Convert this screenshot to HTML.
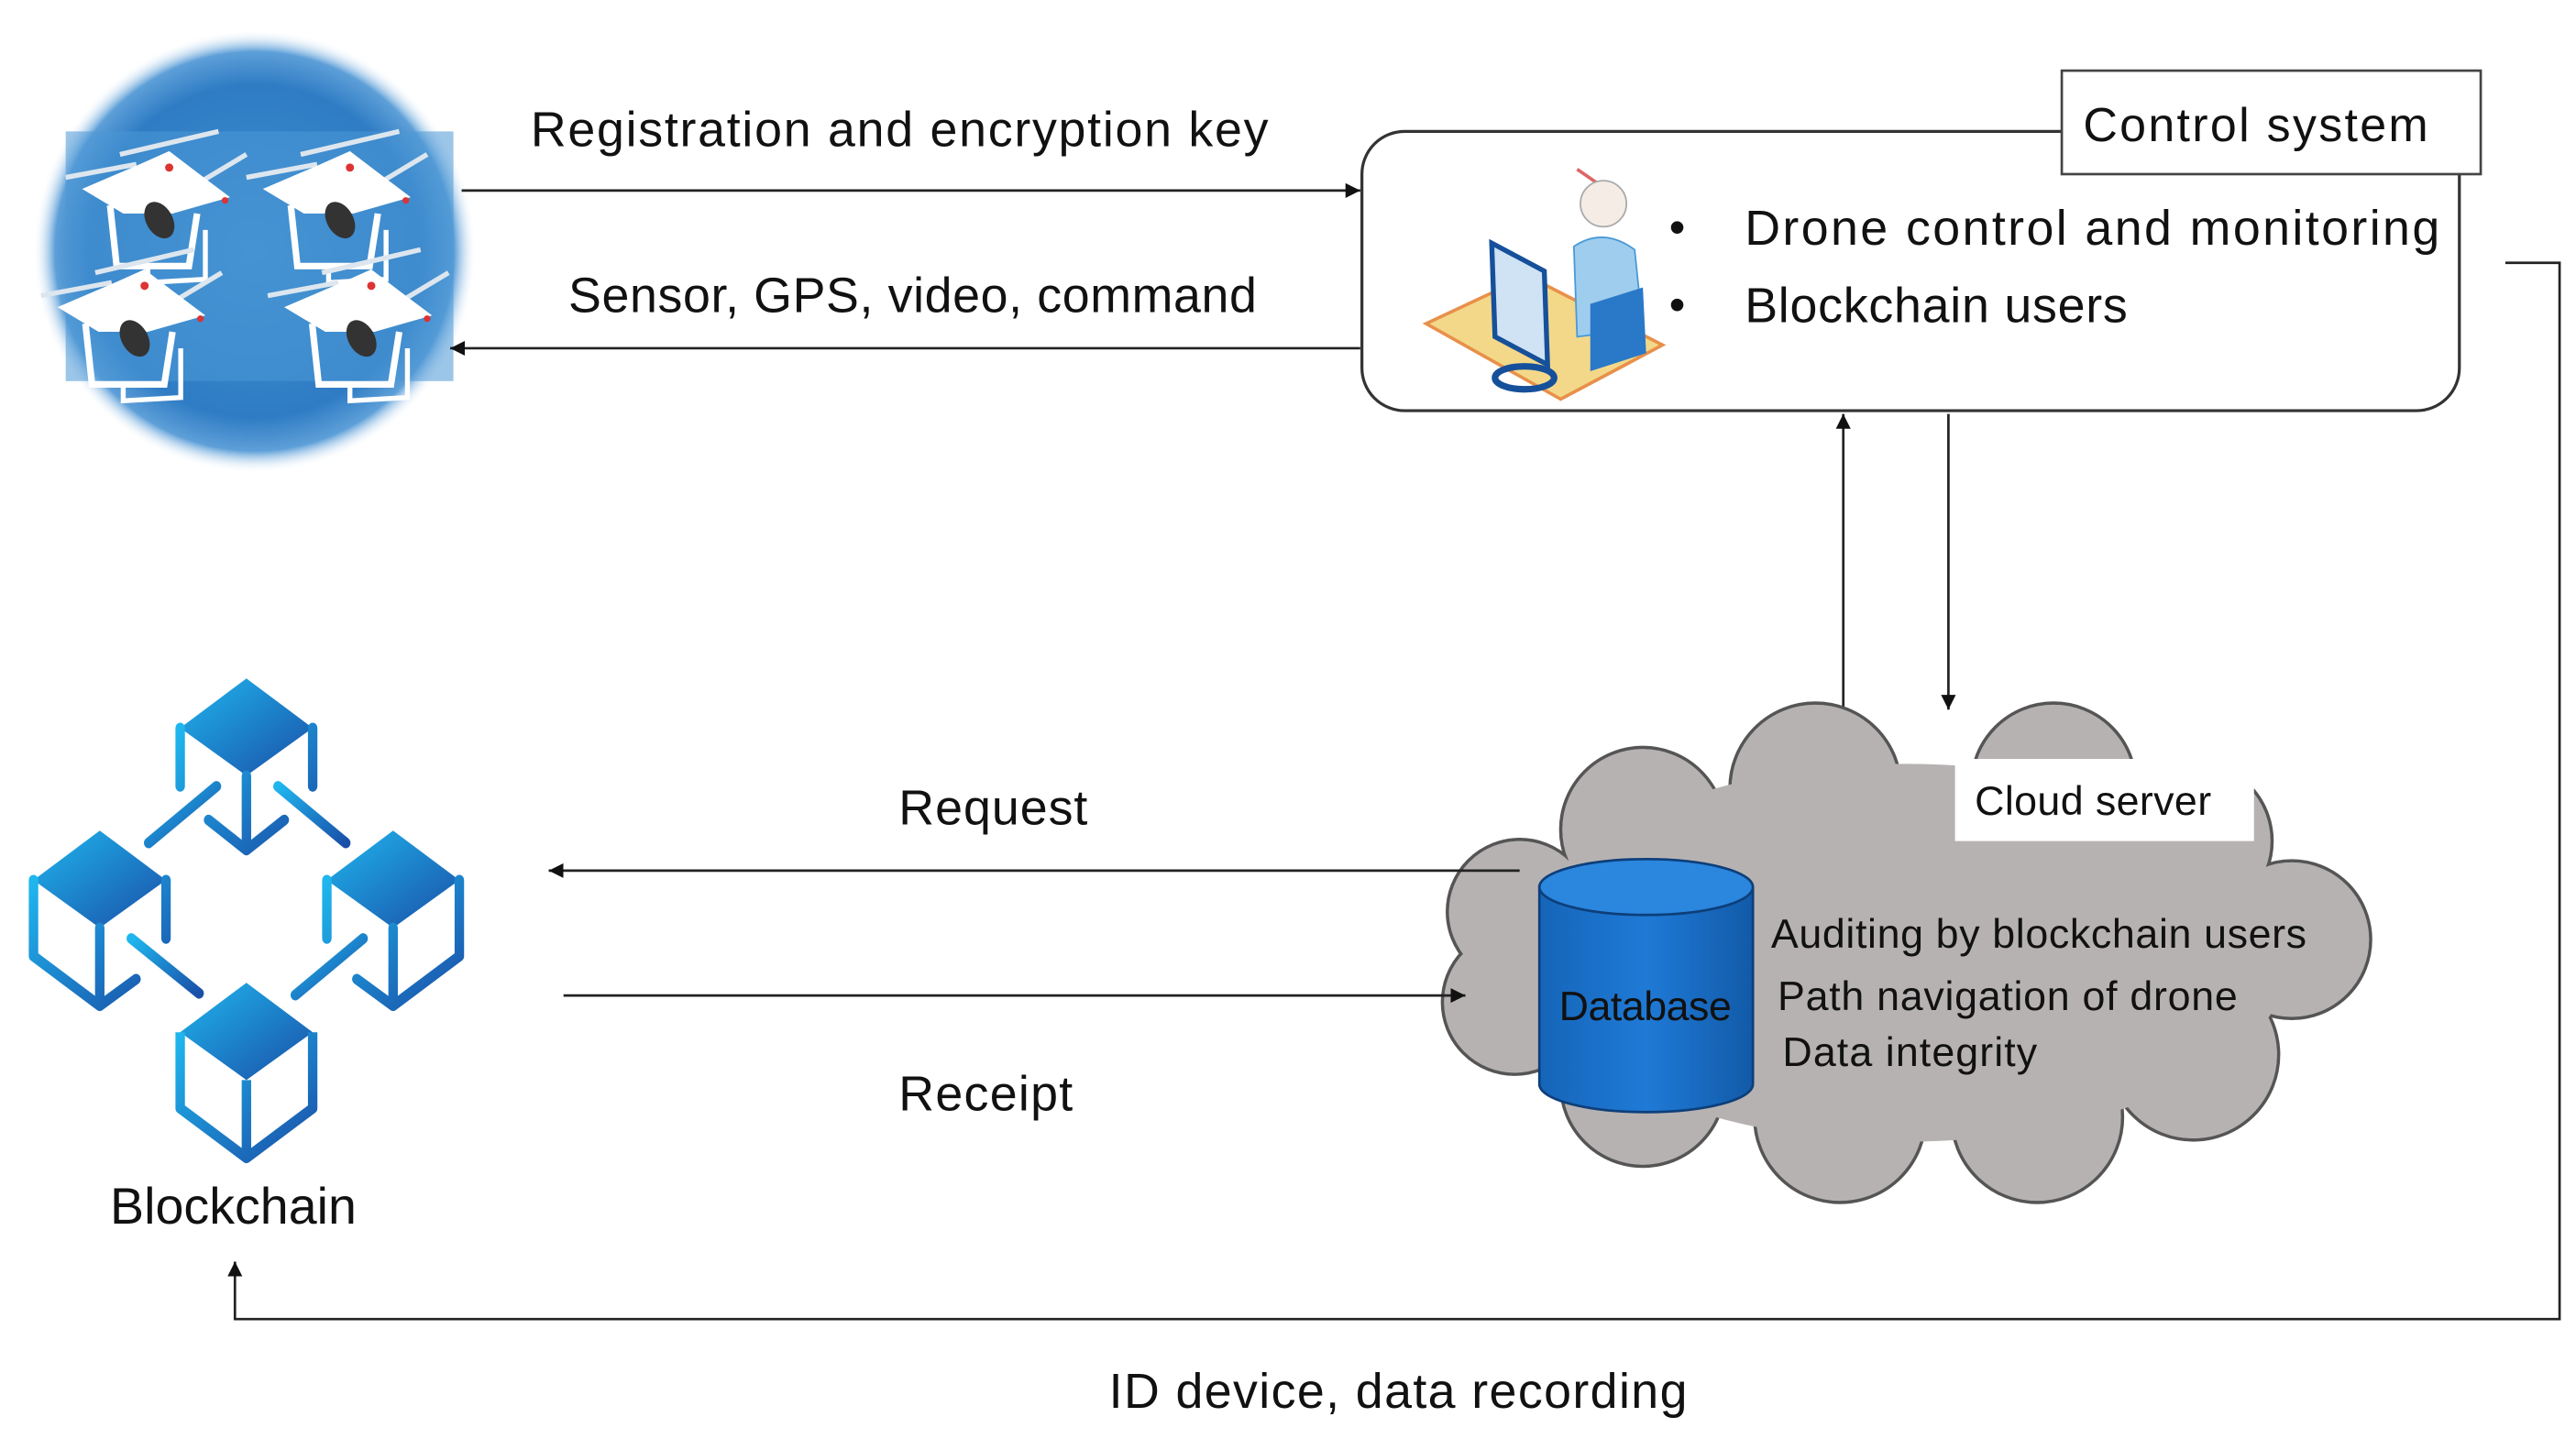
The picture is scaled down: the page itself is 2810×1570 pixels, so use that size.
<!DOCTYPE html>
<html><head><meta charset="utf-8"><style>html,body{margin:0;padding:0;background:#fff}svg{display:block}</style></head>
<body>
<svg width="2810" height="1570" viewBox="0 0 1568 876" preserveAspectRatio="none" xmlns="http://www.w3.org/2000/svg" font-family="Liberation Sans, sans-serif">
<defs>
<marker id="ah" viewBox="0 0 10 10" refX="10" refY="5" markerWidth="9" markerHeight="9" markerUnits="userSpaceOnUse" orient="auto"><path d="M0,0 L10,5 L0,10 z" fill="#111"/></marker>
<radialGradient id="dg" cx="50%" cy="50%" r="50%"><stop offset="0" stop-color="#3f8fd0"/><stop offset="0.75" stop-color="#2f7cc4"/><stop offset="0.9" stop-color="#5d9fd8"/><stop offset="1" stop-color="#fff" stop-opacity="0"/></radialGradient>
<linearGradient id="cg" x1="0" y1="0" x2="1" y2="1"><stop offset="0" stop-color="#1fb6ee"/><stop offset="1" stop-color="#1a4fa8"/></linearGradient>
<linearGradient id="db" x1="0" y1="0" x2="1" y2="0"><stop offset="0" stop-color="#1565b8"/><stop offset="0.5" stop-color="#1f7ad6"/><stop offset="1" stop-color="#125aa8"/></linearGradient>
<g id="drone">
<line x1="-55" y1="-12" x2="-12" y2="-20" stroke="#dde6ee" stroke-width="3"/>
<line x1="-22" y1="-26" x2="38" y2="-40" stroke="#dde6ee" stroke-width="3"/>
<line x1="25" y1="-8" x2="55" y2="-26" stroke="#dde6ee" stroke-width="3"/>
<path d="M-45,-5 L-10,-20 L8,-28 L25,-15 L45,0 L10,10 L-20,10 Z" fill="#fff"/>
<path d="M-28,5 L-24,42 L20,42 L25,10" fill="none" stroke="#fff" stroke-width="4"/>
<path d="M-5,42 L-5,52 L30,50 L30,20" fill="none" stroke="#fff" stroke-width="3"/>
<ellipse cx="2" cy="14" rx="8" ry="12" fill="#333" transform="rotate(-30 2 14)"/>
<circle cx="8" cy="-18" r="2.5" fill="#d33"/>
<circle cx="42" cy="2" r="2" fill="#d33"/>
</g>
<g id="cube">
<path d="M0,0 L42,28 L0,55 L-42,28 Z" fill="url(#cg)"/>
<path d="M-42,28 L-42,71 L0,99 L42,71 L42,28 M0,55 L0,99" fill="none" stroke="url(#cg)" stroke-width="6" stroke-linejoin="round"/>
</g>
</defs>

<!-- drones circle -->
<circle cx="155" cy="153" r="135" fill="url(#dg)"/>
<rect x="40" y="80" width="236" height="152" fill="#4a98d6" opacity="0.55"/>
<use href="#drone" x="95" y="120"/>
<use href="#drone" x="205" y="120"/>
<use href="#drone" x="80" y="192"/>
<use href="#drone" x="218" y="192"/>

<!-- top arrows -->
<line x1="281" y1="116" x2="828" y2="116" stroke="#222" stroke-width="1.5" marker-end="url(#ah)"/>
<text x="323" y="89" font-size="30" textLength="449" fill="#111">Registration and encryption key</text>
<line x1="828" y1="212" x2="274" y2="212" stroke="#222" stroke-width="1.5" marker-end="url(#ah)"/>
<text x="346" y="190" font-size="30" textLength="419" fill="#111">Sensor, GPS, video, command</text>

<!-- control box -->
<rect x="829" y="80" width="668" height="170" rx="26" fill="#fff" stroke="#333" stroke-width="1.8"/>
<rect x="1255" y="43" width="255" height="63" fill="#fff" stroke="#444" stroke-width="1.5"/>
<text x="1268" y="86" font-size="29" textLength="210" fill="#111">Control system</text>
<text x="1016" y="148" font-size="28" fill="#111">•</text>
<text x="1016" y="195" font-size="28" fill="#111">•</text>
<text x="1062" y="149" font-size="30" textLength="423" fill="#111">Drone control and monitoring</text>
<text x="1062" y="196" font-size="30" textLength="233" fill="#111">Blockchain users</text>
<!-- person icon -->
<g>
<path d="M868,197 L930,168 L1012,210 L950,243 Z" fill="#f3d88a" stroke="#e8904a" stroke-width="2"/>
<line x1="960" y1="103" x2="973" y2="112" stroke="#d66" stroke-width="2"/>
<circle cx="976" cy="124" r="14" fill="#f5ece6" stroke="#aaa"/>
<path d="M958,150 Q976,138 995,152 L1000,200 L960,205 Z" fill="#9fcdee" stroke="#4a9ad6"/>
<path d="M968,185 L1000,175 L1002,215 L968,226 Z" fill="#2a78c8"/>
<path d="M908,148 L940,165 L942,222 L910,205 Z" fill="#cfe3f5" stroke="#16509a" stroke-width="3"/>
<ellipse cx="928" cy="230" rx="18" ry="7" fill="none" stroke="#16509a" stroke-width="4"/>
</g>

<!-- right loop connector -->
<polyline points="1525,160 1558,160 1558,803 143,803 143,768" fill="none" stroke="#222" stroke-width="1.5" marker-end="url(#ah)"/>
<text x="675" y="857" font-size="30" textLength="352" fill="#111">ID device, data recording</text>

<!-- vertical arrows -->
<line x1="1122" y1="432" x2="1122" y2="252" stroke="#222" stroke-width="1.5" marker-end="url(#ah)"/>
<line x1="1186" y1="252" x2="1186" y2="432" stroke="#222" stroke-width="1.5" marker-end="url(#ah)"/>

<!-- cloud -->
<g fill="#b7b2b2" stroke="#555" stroke-width="2">
<circle cx="1000" cy="505" r="50"/><circle cx="1105" cy="480" r="52"/><circle cx="1250" cy="478" r="50"/><circle cx="1335" cy="512" r="48"/><circle cx="1395" cy="572" r="48"/><circle cx="1335" cy="642" r="52"/><circle cx="1240" cy="680" r="52"/><circle cx="1120" cy="680" r="52"/><circle cx="1000" cy="660" r="50"/><circle cx="922" cy="610" r="44"/><circle cx="925" cy="555" r="44"/>
</g>
<g fill="#b7b2b2">
<circle cx="1000" cy="505" r="49"/><circle cx="1105" cy="480" r="51"/><circle cx="1250" cy="478" r="49"/><circle cx="1335" cy="512" r="47"/><circle cx="1395" cy="572" r="47"/><circle cx="1335" cy="642" r="51"/><circle cx="1240" cy="680" r="51"/><circle cx="1120" cy="680" r="51"/><circle cx="1000" cy="660" r="49"/><circle cx="922" cy="610" r="43"/><circle cx="925" cy="555" r="43"/>
<ellipse cx="1160" cy="580" rx="235" ry="115"/>
</g>
<rect x="1190" y="462" width="182" height="50" fill="#fff"/>
<text x="1202" y="496" font-size="25" textLength="144" fill="#111">Cloud server</text>
<!-- database -->
<path d="M937,540 L937,660 A65,17 0 0 0 1067,660 L1067,540 Z" fill="url(#db)" stroke="#0d3f7a" stroke-width="1.5"/>
<ellipse cx="1002" cy="540" rx="65" ry="17" fill="#2b86de" stroke="#0d3f7a" stroke-width="1.5"/>
<text x="949" y="621" font-size="25" textLength="105" fill="#111">Database</text>
<text x="1078" y="577" font-size="25" textLength="326" fill="#111">Auditing by blockchain users</text>
<text x="1082" y="615" font-size="25" textLength="280" fill="#111">Path navigation of drone</text>
<text x="1085" y="649" font-size="25" textLength="155" fill="#111">Data integrity</text>

<!-- request/receipt -->
<line x1="925" y1="530" x2="334" y2="530" stroke="#222" stroke-width="1.5" marker-end="url(#ah)"/>
<text x="547" y="502" font-size="30" textLength="115" fill="#111">Request</text>
<line x1="343" y1="606" x2="892" y2="606" stroke="#222" stroke-width="1.5" marker-end="url(#ah)"/>
<text x="547" y="676" font-size="30" textLength="106" fill="#111">Receipt</text>

<!-- blockchain icon -->
<g transform="translate(150,413) scale(0.96,1.077) translate(-150,-413)">
<path d="M150,413 L192,441 L150,468 L108,441 Z" fill="url(#cg)"/>
<path d="M108,441 L108,474 M192,441 L192,474 M150,468 L150,510 M126,493 L150,510 L174,493" fill="none" stroke="url(#cg)" stroke-width="6" stroke-linecap="round" stroke-linejoin="round"/>
<path d="M57,499 L99,527 L57,554 L15,527 Z" fill="url(#cg)"/>
<path d="M99,527 L99,560 M15,527 L15,570 L57,598 L80,583 M57,554 L57,598" fill="none" stroke="url(#cg)" stroke-width="6" stroke-linecap="round" stroke-linejoin="round"/>
<path d="M243,499 L285,527 L243,554 L201,527 Z" fill="url(#cg)"/>
<path d="M201,527 L201,560 M285,527 L285,570 L243,598 L220,583 M243,554 L243,598" fill="none" stroke="url(#cg)" stroke-width="6" stroke-linecap="round" stroke-linejoin="round"/>
<use href="#cube" x="150" y="585"/>
<g stroke="url(#cg)" stroke-width="6" stroke-linecap="round">
<line x1="88" y1="506" x2="131" y2="474"/>
<line x1="170" y1="474" x2="213" y2="506"/>
<line x1="77" y1="560" x2="120" y2="591"/>
<line x1="181" y1="592" x2="224" y2="560"/>
</g>
</g>
<text x="67" y="745" font-size="31" textLength="150" fill="#111">Blockchain</text>
</svg>
</body></html>
